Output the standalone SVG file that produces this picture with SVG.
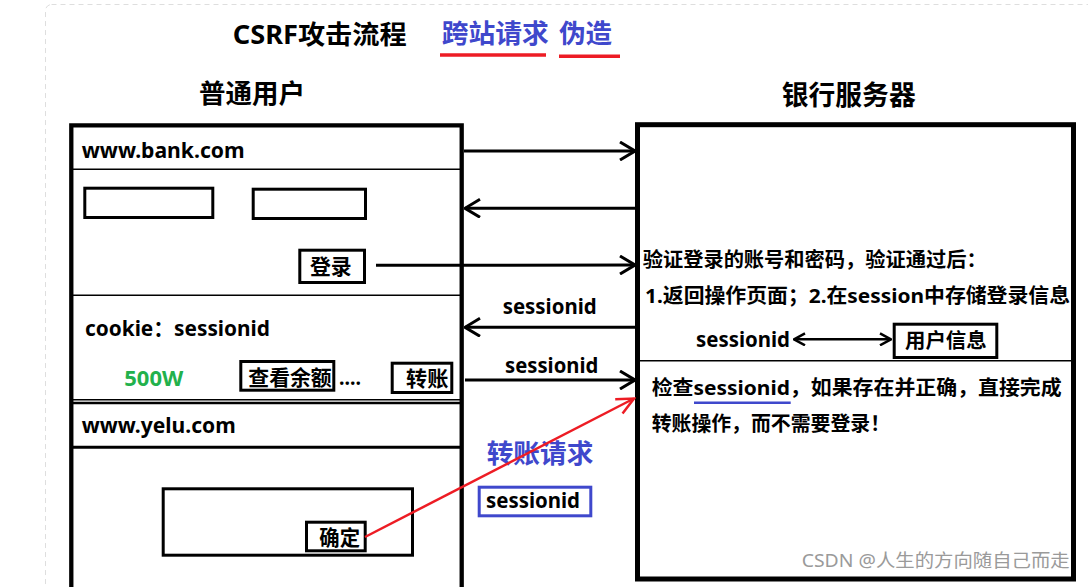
<svg xmlns="http://www.w3.org/2000/svg" width="1088" height="587" viewBox="0 0 1088 587">
<style>
.t{font-family:"Noto Sans","Noto Sans CJK SC",sans-serif;font-weight:bold;fill:#000}
.blue{fill:#3f48cc}
.box{fill:none;stroke:#000;stroke-width:3}
.div{stroke:#000;fill:none}
.conn{stroke:#000;stroke-width:3;fill:none}
</style>
<defs>
<marker id="ah" markerUnits="userSpaceOnUse" viewBox="0 0 20 20" markerWidth="20" markerHeight="20" refX="19" refY="10" orient="auto"><path d="M4,1 L19,10 L4,19" fill="none" stroke="#000" stroke-width="3"/></marker>
<marker id="ahs" markerUnits="userSpaceOnUse" viewBox="0 0 14 14" markerWidth="14" markerHeight="14" refX="13" refY="7" orient="auto-start-reverse"><path d="M2,1 L13,7 L2,13" fill="none" stroke="#000" stroke-width="2.5"/></marker>
<marker id="ahr" markerUnits="userSpaceOnUse" viewBox="0 0 22 22" markerWidth="22" markerHeight="22" refX="20" refY="11" orient="auto"><path d="M3,3 L20,11 L3,19" fill="none" stroke="#ed1c24" stroke-width="2.5"/></marker>
</defs>
<rect x="45.5" y="4.5" width="1100" height="700" rx="6" fill="none" stroke="#dedede" stroke-dasharray="5,4"/>

<g id="title">
<text class="t" x="232.7" y="43.5" font-size="26" textLength="174" lengthAdjust="spacingAndGlyphs">CSRF攻击流程</text>
<text class="t blue" x="441.7" y="42.5" font-size="26.5" textLength="107" lengthAdjust="spacingAndGlyphs">跨站请求</text>
<text class="t blue" x="559" y="42.5" font-size="26.5" textLength="53" lengthAdjust="spacingAndGlyphs">伪造</text>
<line x1="440" y1="55" x2="546" y2="55" stroke="#ed1c24" stroke-width="3.4"/>
<line x1="559" y1="56.3" x2="620" y2="56.3" stroke="#ed1c24" stroke-width="3.4"/>
</g>

<g id="user-label"><text class="t" x="199" y="103" font-size="26.5" textLength="106" lengthAdjust="spacingAndGlyphs">普通用户</text></g>
<g id="server-label"><text class="t" x="781.7" y="105" font-size="27" textLength="134" lengthAdjust="spacingAndGlyphs">银行服务器</text></g>

<g id="user-browser">
<path d="M71.3,590 V125.3 H461.7 V590" fill="none" stroke="#000" stroke-width="4.3"/>
<line class="div" x1="73" y1="169.3" x2="460" y2="169.3" stroke-width="1.5"/>
<line class="div" x1="73" y1="295.3" x2="460" y2="295.3" stroke-width="1.5"/>
<line class="div" x1="73" y1="399.7" x2="460" y2="399.7" stroke-width="1.5"/>
<line class="div" x1="73" y1="403" x2="460" y2="403" stroke-width="2.5"/>
<line class="div" x1="73" y1="447.3" x2="460" y2="447.3" stroke-width="3"/>
<text class="t" x="81.7" y="158.3" font-size="21" textLength="163" lengthAdjust="spacingAndGlyphs">www.bank.com</text>
<text class="t" x="85" y="336" font-size="21" textLength="185" lengthAdjust="spacingAndGlyphs">cookie：sessionid</text>
<text class="t" x="124.3" y="386" font-size="21" fill="#22b14c" style="fill:#22b14c" textLength="59" lengthAdjust="spacingAndGlyphs">500W</text>
<text class="t" x="339" y="385" font-size="21" textLength="22" lengthAdjust="spacingAndGlyphs">....</text>
<text class="t" x="81.7" y="432.7" font-size="21" textLength="154" lengthAdjust="spacingAndGlyphs">www.yelu.com</text>
</g>

<g id="input-username"><rect class="box" x="84.8" y="188.2" width="128" height="29.3"/></g>
<g id="input-password"><rect class="box" x="253.2" y="189.2" width="112.3" height="29.3"/></g>
<g id="btn-login"><rect class="box" x="299.8" y="250.2" width="64.7" height="32.3"/><text class="t" x="310" y="273.5" font-size="21" textLength="41.7" lengthAdjust="spacingAndGlyphs">登录</text></g>
<g id="btn-balance"><rect class="box" x="240.8" y="361.5" width="93" height="28.7"/><text class="t" x="248.3" y="385" font-size="21" textLength="83.4" lengthAdjust="spacingAndGlyphs">查看余额</text></g>
<g id="btn-transfer"><rect class="box" x="392.2" y="363.2" width="59.6" height="29.3"/><text class="t" x="406" y="386" font-size="21" textLength="42.3" lengthAdjust="spacingAndGlyphs">转账</text></g>
<g id="popup"><rect class="box" x="163.2" y="488.8" width="249.3" height="66.4"/></g>
<g id="btn-confirm"><rect class="box" x="306.5" y="522.2" width="58.7" height="28.6" fill="#fff" style="fill:#fff"/><text class="t" x="319.3" y="544.5" font-size="21" textLength="40.7" lengthAdjust="spacingAndGlyphs">确定</text></g>

<g id="server">
<rect x="637.5" y="124.7" width="436" height="454.3" fill="none" stroke="#000" stroke-width="5"/>
<line class="div" x1="640" y1="360.7" x2="1071" y2="360.7" stroke-width="1.5"/>
<text class="t" x="642.7" y="267" font-size="20" textLength="344" lengthAdjust="spacingAndGlyphs">验证登录的账号和密码，验证通过后：</text>
<text class="t" x="645" y="303" font-size="20" textLength="425" lengthAdjust="spacingAndGlyphs">1.返回操作页面；2.在session中存储登录信息</text>
<text class="t" x="696" y="347.3" font-size="21" textLength="94" lengthAdjust="spacingAndGlyphs">sessionid</text>
<text class="t" x="651.7" y="395" font-size="20" textLength="410" lengthAdjust="spacingAndGlyphs">检查sessionid，如果存在并正确，直接完成</text>
<line x1="694" y1="402.7" x2="790.7" y2="402.7" stroke="#3f48cc" stroke-width="2.5"/>
<text class="t" x="651.7" y="430.5" font-size="20" textLength="238.3" lengthAdjust="spacingAndGlyphs">转账操作，而不需要登录！</text>
</g>
<g id="user-info"><rect class="box" x="894.2" y="324.2" width="102.6" height="33.3"/><text class="t" x="905" y="347.5" font-size="20.5" textLength="81.7" lengthAdjust="spacingAndGlyphs">用户信息</text></g>

<g id="forged-request">
<text class="t blue" x="486.7" y="463" font-size="26.5" textLength="106.6" lengthAdjust="spacingAndGlyphs">转账请求</text>
<rect x="479.2" y="487.2" width="111.6" height="28.6" fill="none" stroke="#3f48cc" stroke-width="3"/>
<text class="t" x="486" y="507.7" font-size="21" textLength="94" lengthAdjust="spacingAndGlyphs">sessionid</text>
</g>

<g id="connectors">
<line class="conn" x1="464" y1="151" x2="635" y2="151" marker-end="url(#ah)"/>
<line class="conn" x1="636" y1="208.3" x2="465" y2="208.3" marker-end="url(#ah)"/>
<line class="conn" x1="376" y1="265.3" x2="635" y2="265" marker-end="url(#ah)"/>
<line class="conn" x1="636" y1="327.3" x2="465" y2="327.3" marker-end="url(#ah)"/>
<text class="t" x="502.7" y="314" font-size="21" textLength="94" lengthAdjust="spacingAndGlyphs">sessionid</text>
<line class="conn" x1="465" y1="380" x2="635" y2="380" marker-end="url(#ah)"/>
<text class="t" x="505" y="373" font-size="21" textLength="93.3" lengthAdjust="spacingAndGlyphs">sessionid</text>
<line x1="794" y1="339.3" x2="891" y2="339.3" stroke="#000" stroke-width="2.5" marker-start="url(#ahs)" marker-end="url(#ahs)"/>
<line x1="365" y1="537" x2="634" y2="398.5" stroke="#ed1c24" stroke-width="2.5" marker-end="url(#ahr)"/>
</g>

<text x="801.7" y="567" font-family="'Noto Sans','Noto Sans CJK SC',sans-serif" font-size="18" fill="#9a9a9a" textLength="268" lengthAdjust="spacingAndGlyphs">CSDN @人生的方向随自己而走</text>
</svg>
